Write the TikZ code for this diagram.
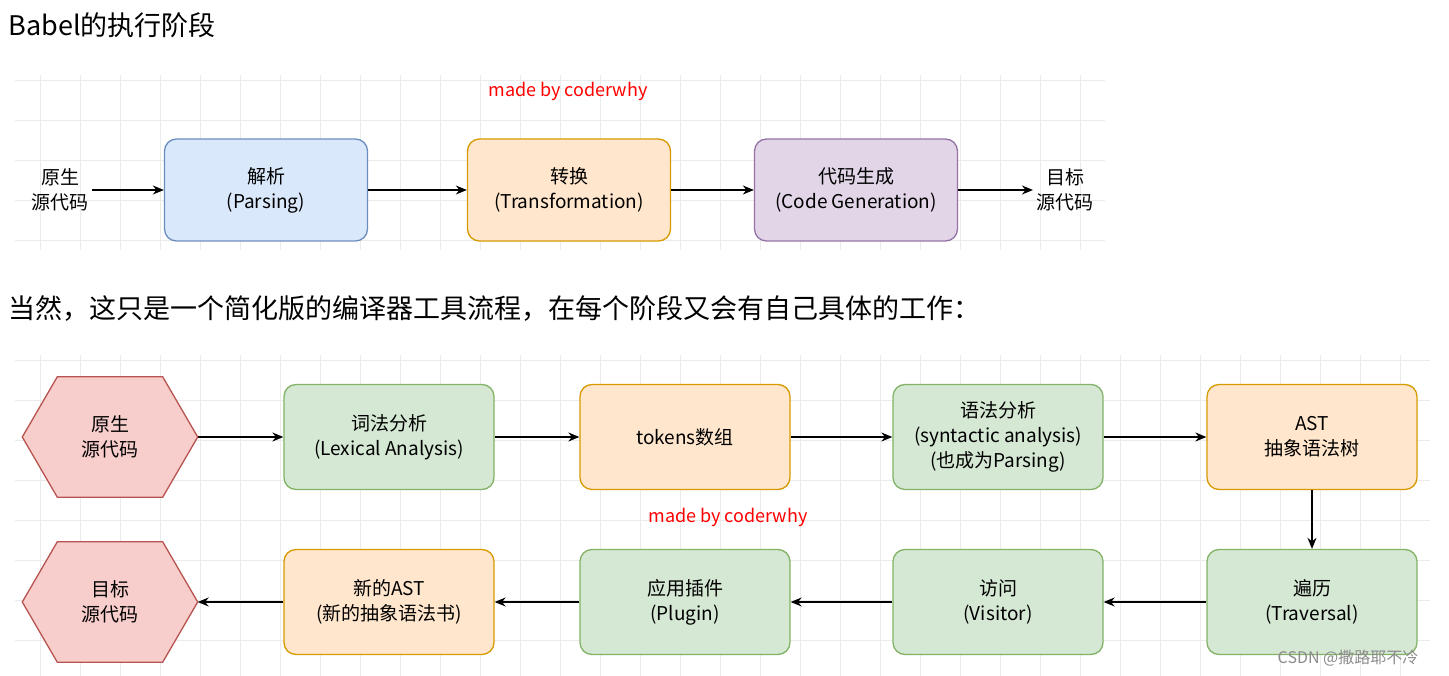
\documentclass[tikz,border=0pt]{standalone}
\usepackage{fontspec}
\setmainfont{Noto Sans CJK SC}
\usetikzlibrary{positioning,arrows.meta}
\definecolor{bluef}{HTML}{DAE8FC}\definecolor{blued}{HTML}{6C8EBF}
\definecolor{orgf}{HTML}{FFE6CC}\definecolor{orgd}{HTML}{D79B00}
\definecolor{purf}{HTML}{E1D5E7}\definecolor{purd}{HTML}{9673A6}
\definecolor{grnf}{HTML}{D5E8D4}\definecolor{grnd}{HTML}{82B366}
\definecolor{redf}{HTML}{F8CECC}\definecolor{redd}{HTML}{B85450}
\tikzset{
  box/.style={draw,rounded corners=12pt,line width=1.3pt,minimum width=203pt,minimum height=102pt,align=center,font=\fontsize{19}{25}\selectfont},
  blue/.style={box,fill=bluef,draw=blued},
  org/.style={box,fill=orgf,draw=orgd,minimum width=210pt,minimum height=105pt},
  grn/.style={box,fill=grnf,draw=grnd,minimum width=210pt,minimum height=105pt},
  pur/.style={box,fill=purf,draw=purd},
  hexa/.style={minimum width=175pt,minimum height=120pt,align=center,font=\fontsize{19}{25}\selectfont},
  plain/.style={align=center,font=\fontsize{19}{25}\selectfont},
  arr/.style={-{Stealth[length=11pt,width=9pt]},line width=1.4pt},
  madeby/.style={text=red,font=\fontsize{18}{22}\selectfont}
}
\begin{document}
\begin{tikzpicture}[x=1pt,y=-1pt]
\useasboundingbox (0,0) rectangle (1449,676);
\fill[white] (0,0) rectangle (1449,676);
% grids
\draw[black!8,step=40pt] (15,75) grid (1105,250);
\draw[black!8,step=40pt] (15,355) grid (1430,676);
\node[anchor=west,font=\fontsize{27}{30}\selectfont] (title) at (5,25) {Babel的执行阶段};
\node[madeby] (m1) at (568,91) {made by coderwhy};

% top row
\node[plain] (src) at (60,190) {原生\\源代码};
\node[blue] (parse) at (266,190) {解析\\(Parsing)};
\node[org,minimum width=203pt,minimum height=102pt] (trans) at (569,190) {转换\\(Transformation)};
\node[pur] (gen) at (856,190) {代码生成\\(Code Generation)};
\node[plain] (dst) at (1065,190) {目标\\源代码};
\draw[arr] (src) -- (parse);
\draw[arr] (parse) -- (trans);
\draw[arr] (trans) -- (gen);
\draw[arr] (gen) -- (dst);

\node[anchor=west,font=\fontsize{27}{30}\selectfont] (desc) at (5,308) {当然，这只是一个简化版的编译器工具流程，在每个阶段又会有自己具体的工作：};

% bottom rows
\node[hexa] (code) at (110,437) {};
\node[grn] (lex) at (389,437) {词法分析\\(Lexical Analysis)};
\node[org] (tok) at (685,437) {tokens数组};
\node[grn] (syn) at (998,437) {语法分析\\(syntactic analysis)\\(也成为Parsing)};
\node[org] (ast) at (1312,437) {AST\\抽象语法树};
\node[hexa] (out) at (110,602) {};
\node[org] (nast) at (389,602) {新的AST\\(新的抽象语法书)};
\node[grn] (plug) at (685,602) {应用插件\\(Plugin)};
\node[grn] (vis) at (998,602) {访问\\(Visitor)};
\node[grn] (trav) at (1312,602) {遍历\\(Traversal)};
\node[madeby] (m2) at (728,517) {made by coderwhy};
\foreach \n in {code,out}{
  \draw[fill=redf,draw=redd,line width=1.3pt]
    (\n.west) -- ([xshift=35pt]\n.north west) -- ([xshift=-35pt]\n.north east)
    -- (\n.east) -- ([xshift=-35pt]\n.south east) -- ([xshift=35pt]\n.south west) -- cycle;
}
\node[hexa] (codet) at (code) {原生\\源代码};
\node[hexa] (outt) at (out) {目标\\源代码};
\draw[arr] (code) -- (lex);
\draw[arr] (lex) -- (tok);
\draw[arr] (tok) -- (syn);
\draw[arr] (syn) -- (ast);
\draw[arr] (ast) -- (trav);
\draw[arr] (trav) -- (vis);
\draw[arr] (vis) -- (plug);
\draw[arr] (plug) -- (nast);
\draw[arr] (nast) -- (out);
\node[text=black!45,font=\fontsize{16}{20}\selectfont] (wm) at (1348,658) {CSDN @撒路耶不冷};
\end{tikzpicture}
\end{document}
